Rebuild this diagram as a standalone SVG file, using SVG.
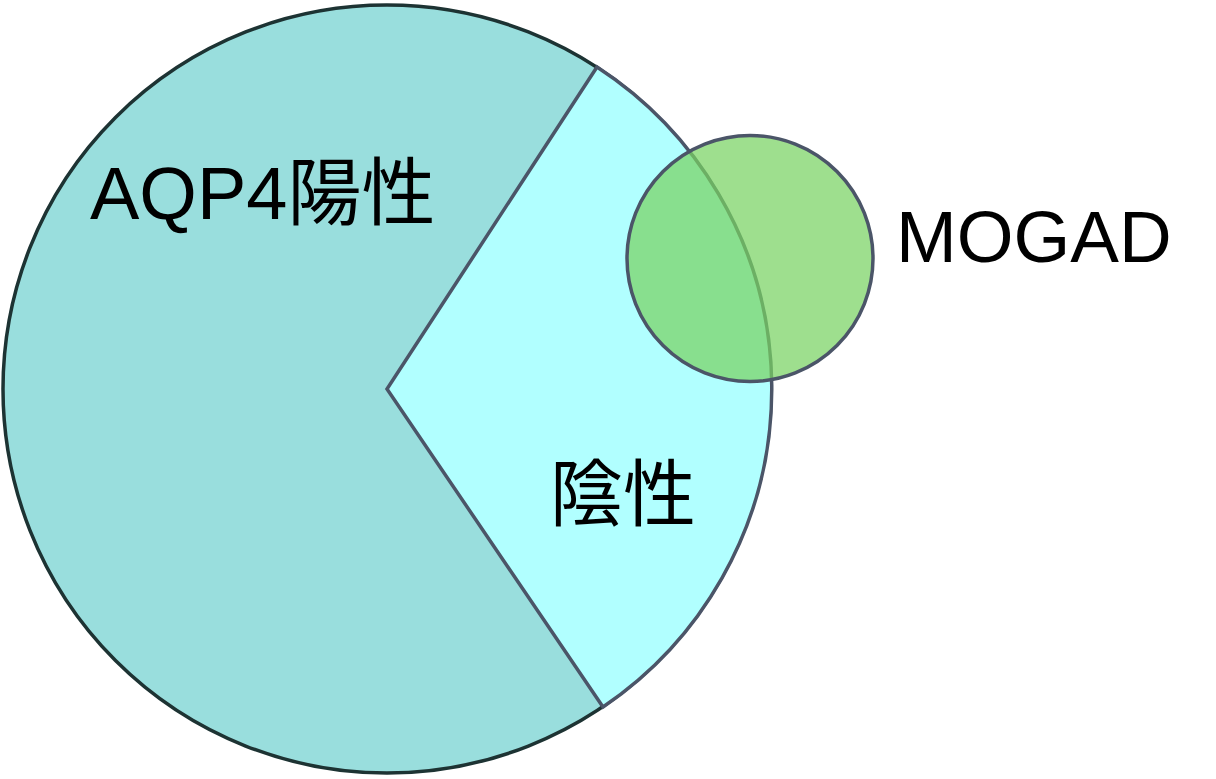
<svg xmlns="http://www.w3.org/2000/svg" width="1216" height="779" viewBox="0 0 1216 779">
<style>
.lbl{font-family:"Liberation Sans","Noto Sans CJK JP",sans-serif;font-size:73px;fill:#000}
</style>
<rect width="1216" height="779" fill="#fff"/>
<g id="aqp4-positive">
<circle cx="387" cy="389" r="384" fill="#99DEDD" stroke="#1D3333" stroke-width="3.5"/>
</g>
<g id="aqp4-negative">
<path d="M597,67 A384,384 0 0 1 603,707 L387,389 Z" fill="#B1FFFF" stroke="#4B5568" stroke-width="3.5" stroke-linejoin="miter"/>
</g>
<g id="mogad">
<circle cx="750" cy="258.5" r="123" fill="#79D263" fill-opacity="0.72" stroke="#4B5568" stroke-width="3.5"/>
</g>
<g id="labels">
<text class="lbl" x="90" y="219" style="font-size:74px">AQP4陽性</text>
<text class="lbl" x="550" y="520">陰性</text>
<text class="lbl" x="896" y="262">MOGAD</text>
</g>
</svg>
